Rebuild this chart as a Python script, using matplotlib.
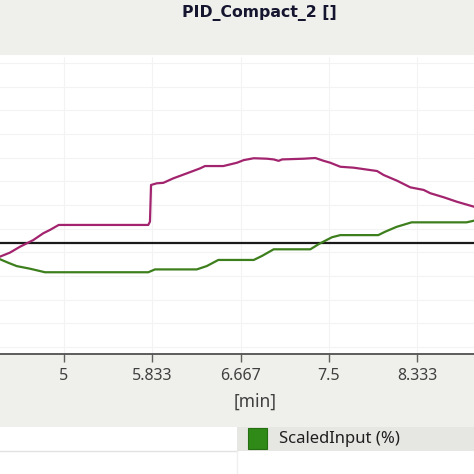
import matplotlib
matplotlib.use("Agg")
import matplotlib.pyplot as plt
from matplotlib.patches import Rectangle

# ---- data (time in min, value in chart units) ----
mag_t = [4.396, 4.490, 4.585, 4.710, 4.805, 4.868, 4.950, 5.795, 5.811, 5.821, 5.875, 5.937,
         6.031, 6.158, 6.283, 6.330, 6.503, 6.632, 6.695, 6.790, 6.915, 6.978, 7.025, 7.057,
         7.261, 7.371, 7.450, 7.512, 7.607, 7.733, 7.827, 7.953, 8.016, 8.142, 8.267, 8.393,
         8.456, 8.582, 8.707, 8.868]
mag_v = [3.82, 3.99, 4.24, 4.52, 4.81, 4.95, 5.16, 5.16, 5.30, 6.85, 6.92, 6.94,
         7.13, 7.34, 7.55, 7.65, 7.65, 7.79, 7.90, 7.98, 7.96, 7.93, 7.87, 7.93,
         7.96, 7.99, 7.87, 7.79, 7.62, 7.58, 7.52, 7.44, 7.27, 7.03, 6.75, 6.64,
         6.50, 6.33, 6.14, 5.93]

grn_t = [4.396, 4.475, 4.554, 4.679, 4.821, 5.795, 5.858, 6.252, 6.346, 6.456, 6.790, 6.868,
         6.978, 7.324, 7.403, 7.528, 7.607, 7.965, 8.028, 8.138, 8.279, 8.798, 8.868]
grn_v = [3.71, 3.56, 3.42, 3.31, 3.16, 3.16, 3.28, 3.28, 3.42, 3.68, 3.68, 3.85,
         4.13, 4.13, 4.35, 4.64, 4.73, 4.73, 4.87, 5.08, 5.27, 5.27, 5.34]

setpoint = 4.40

xticks = [5, 5.8333, 6.6667, 7.5, 8.3333]
xtick_labels = ["5", "5.833", "6.667", "7.5", "8.333"]
title = "PID_Compact_2 []"
xlabel = "[min]"
legend_label = "ScaledInput (%)"

W = H = 474
fig = plt.figure(figsize=(4.74, 4.74), dpi=100)
fig.patch.set_facecolor("white")

def fy(py):
    return 1 - py / H

def fx(px):
    return px / W

band = "#efefeb"
# title band
fig.patches.append(Rectangle((0, fy(55)), 1, 55 / H, transform=fig.transFigure,
                             facecolor=band, edgecolor="none", zorder=0))
# bottom axis band
fig.patches.append(Rectangle((0, fy(427)), 1, (427 - 354) / H, transform=fig.transFigure,
                             facecolor=band, edgecolor="none", zorder=0))
# legend row right part
fig.patches.append(Rectangle((fx(237), fy(451)), 1 - fx(237), (451 - 427) / H,
                             transform=fig.transFigure, facecolor="#e6e6e2",
                             edgecolor="none", zorder=0))
# thin separators
fig.lines.append(plt.Line2D([0, fx(237)], [fy(451), fy(451)], transform=fig.transFigure,
                            color="#e2e2e2", lw=1))
fig.lines.append(plt.Line2D([fx(237), fx(237)], [fy(451), 0], transform=fig.transFigure,
                            color="#f0f0f0", lw=1))
# legend square
fig.patches.append(Rectangle((fx(248), fy(449)), 19 / W, 21 / H, transform=fig.transFigure,
                             facecolor="#2f8a18", edgecolor="#256e12", lw=0.8, zorder=2))
fig.text(fx(279), fy(439), legend_label, fontsize=12, family="Noto Sans",
         color="#202020", va="center", ha="left")

ax = fig.add_axes([0, fy(354), 1, (354 - 57) / H])
ax.set_zorder(3)
ax.set_facecolor("white")
ax.plot(mag_t, mag_v, color="#a3246e", lw=1.6, zorder=4)
ax.plot(grn_t, grn_v, color="#3d7f1c", lw=1.6, zorder=4)
ax.axhline(setpoint, color="#1a1a1a", lw=1.6, zorder=3)

ax.set_xlim(4.3962, 8.8679)
ax.set_ylim(-0.296, 12.26)
ax.set_yticks(range(0, 13))
ax.set_xticks(xticks)
ax.set_xticklabels(xtick_labels, family="Noto Sans", fontsize=11.5, color="#404040")
ax.tick_params(axis="y", length=0, labelleft=False)
ax.tick_params(axis="x", direction="out", length=6, width=1, color="#606060", pad=4)
ax.grid(True, color="#f3f3f3", lw=0.8)
for s in ["left", "right", "top"]:
    ax.spines[s].set_visible(False)
ax.spines["bottom"].set_color("#505050")
ax.spines["bottom"].set_linewidth(1.3)

fig.text(fx(255), fy(402), xlabel, fontsize=12.5, family="Noto Sans", color="#404040",
         ha="center", va="center")
fig.text(fx(259), fy(13), title, fontsize=11.3, family="DejaVu Sans", weight="bold",
         color="#151530", ha="center", va="center")

fig.savefig("out.png", dpi=100, facecolor=fig.get_facecolor())
